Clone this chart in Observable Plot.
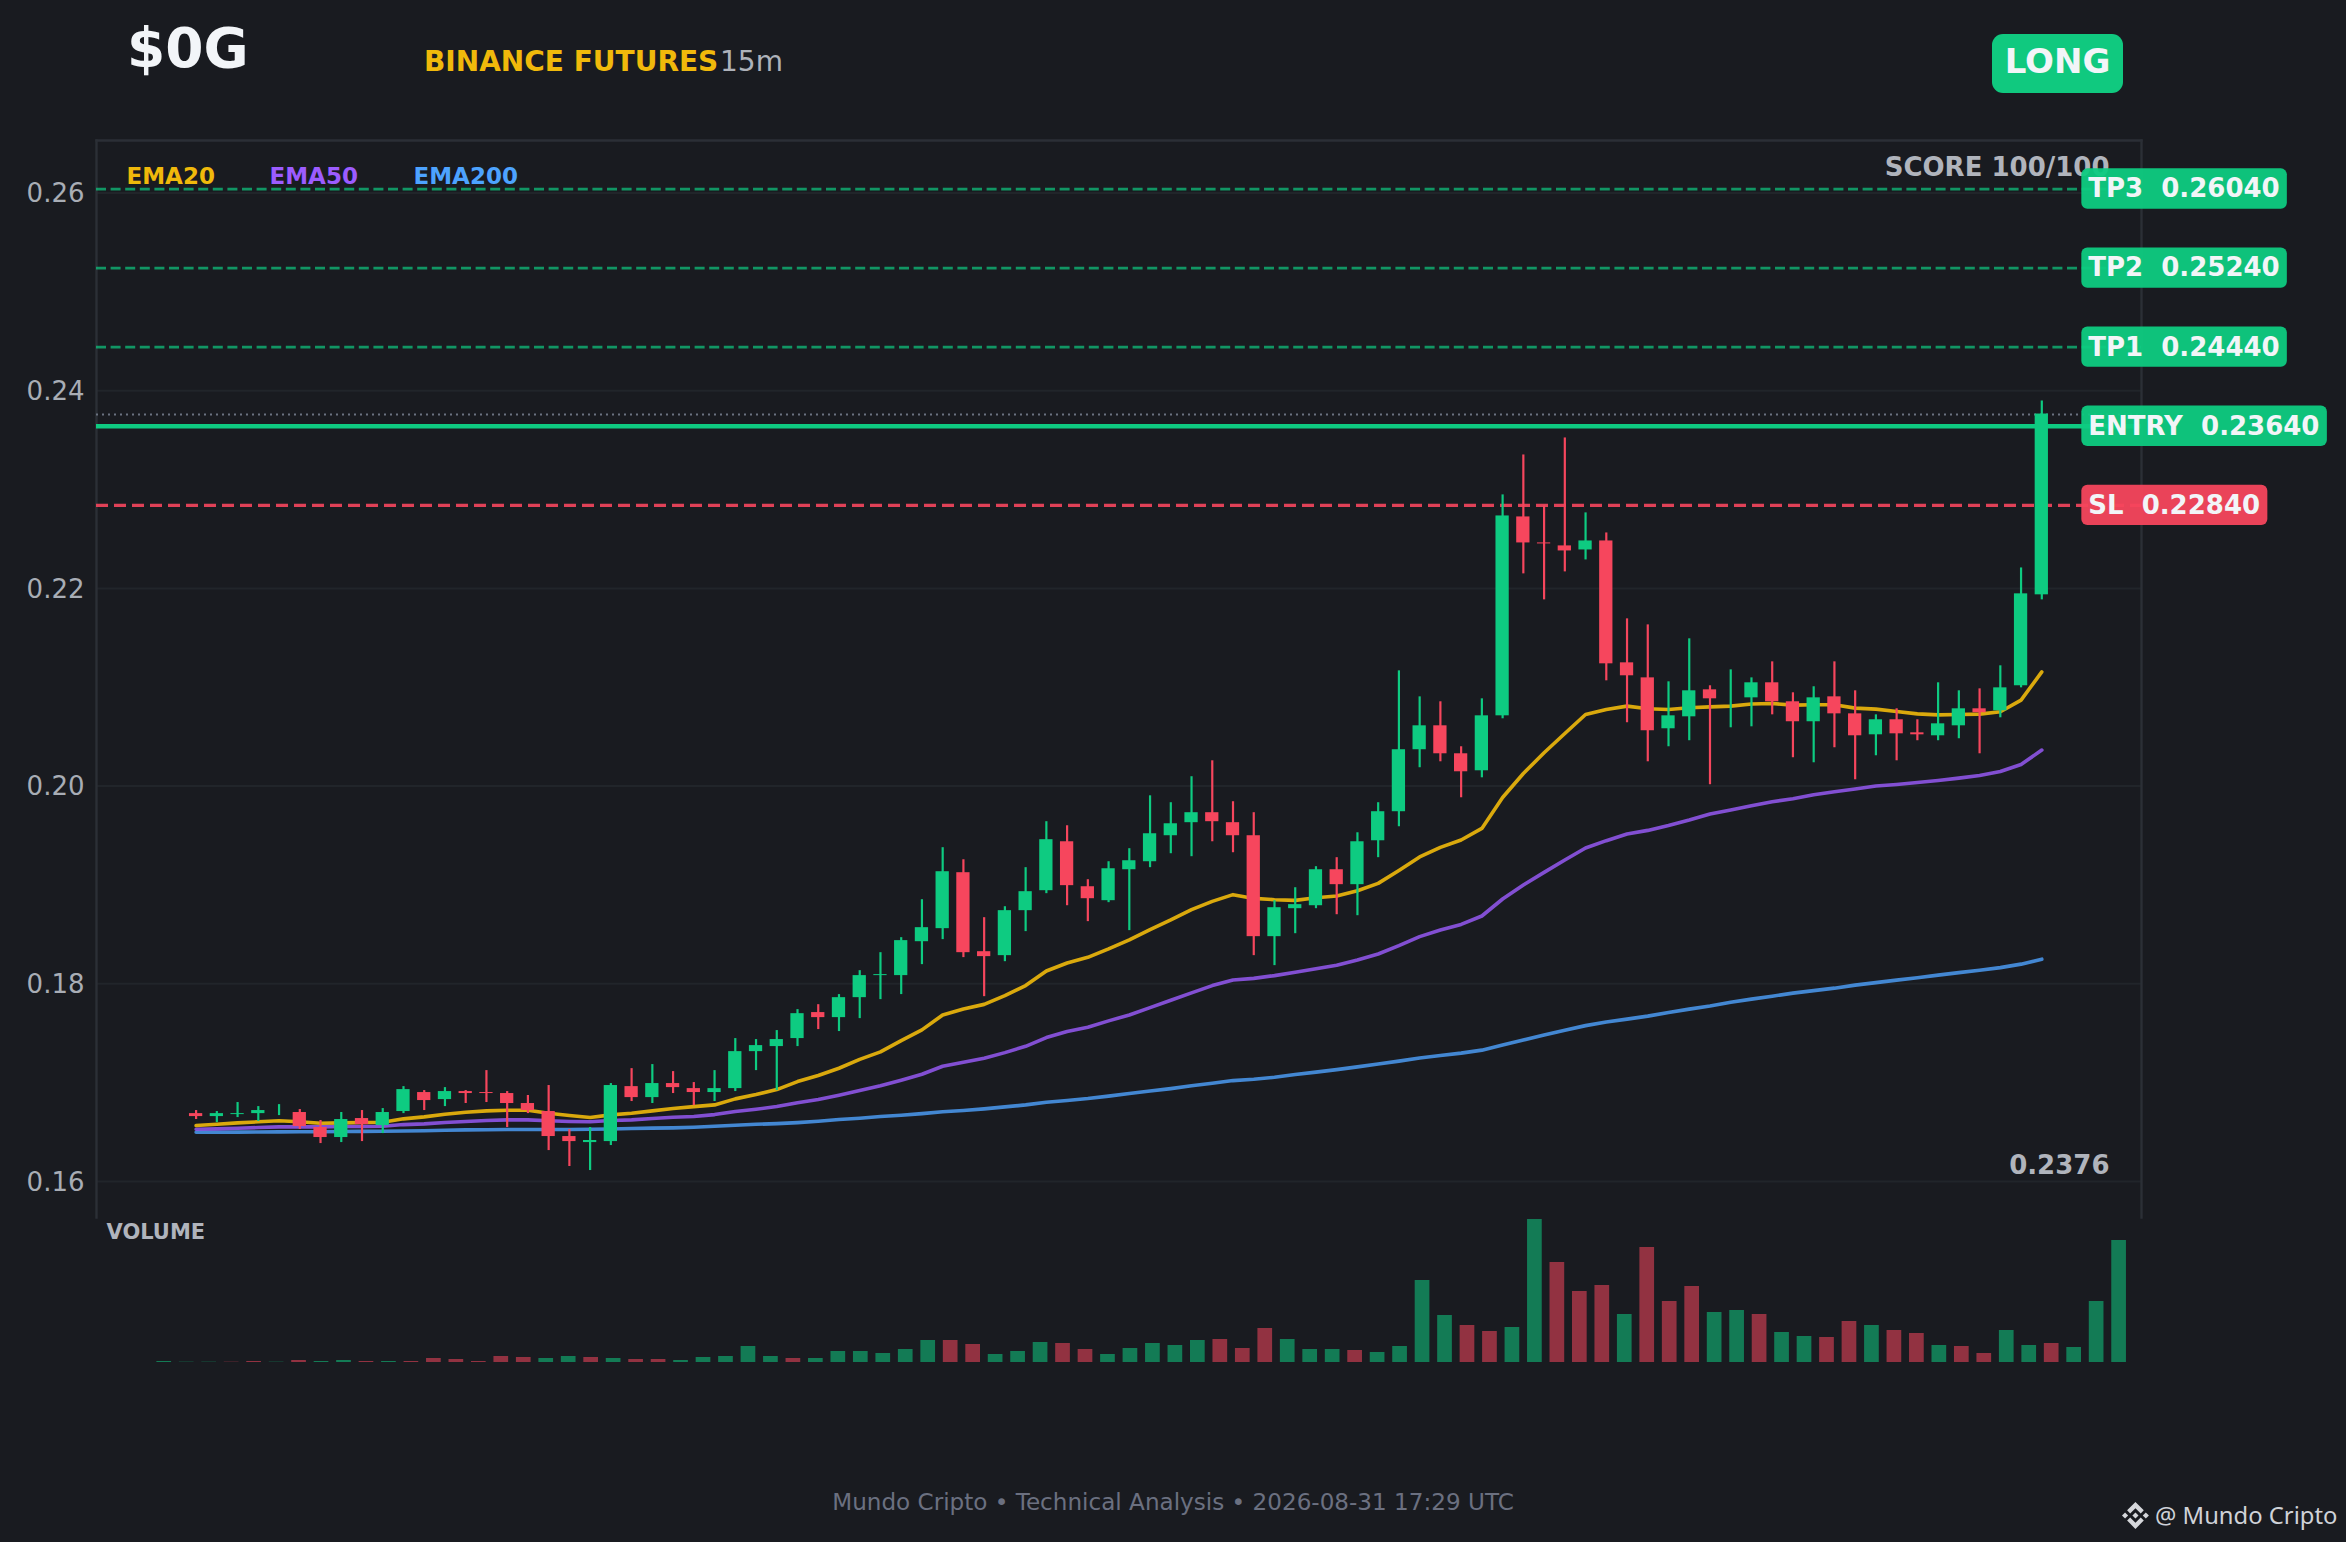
<!DOCTYPE html>
<html><head><meta charset="utf-8">
<script src="https://cdn.jsdelivr.net/npm/d3@7"></script>
<script src="https://cdn.jsdelivr.net/npm/@observablehq/plot@0.6"></script>
<style>
html,body{margin:0;padding:0;background:#191b20;}
#page{position:relative;width:2346px;height:1542px;overflow:hidden;background:#191b20;font-family:"DejaVu Sans",sans-serif;}
#header{height:130px;}
.abs{position:absolute;white-space:pre;line-height:1;}
svg{display:block;}
</style></head><body>
<div id="page">
<div id="header">
<span class="abs" style="left:127px;top:21px;font-size:55px;font-weight:700;color:#f2f5f8">$0G</span>
<span class="abs" style="left:424px;top:47.5px;font-size:28px;font-weight:700;color:#f0b90b">BINANCE FUTURES</span>
<span class="abs" style="left:720px;top:47.5px;font-size:28px;color:#aeb2ba">15m</span>
<div class="abs" style="left:1992px;top:34px;width:131px;height:59px;border-radius:11px;background:#10c97f;color:#f2f5f8;font-size:34px;font-weight:700;text-align:center;line-height:55px">LONG</div>
</div>
<div id="price"></div>
<div id="volume"></div>
<span class="abs" style="left:0;width:2346px;text-align:center;top:1491px;font-size:23.1px;color:#6b7080">Mundo Cripto • Technical Analysis • 2026-08-31 17:29 UTC</span>
<svg class="abs" style="left:2122px;top:1502px" width="27" height="27" viewBox="0 0 126 126" fill="#d5d7db"><path d="M38.171 53.203L62.759 28.616l24.6 24.6 14.306-14.307L62.759 0 23.864 38.896z"/><path d="M0 62.759l14.307-14.307 14.306 14.307-14.306 14.306z"/><path d="M62.759 48.447l14.313 14.312-14.313 14.313-14.312-14.313z"/><path d="M96.905 62.759l14.306-14.307 14.307 14.307-14.307 14.306z"/><path d="M87.359 72.291l-24.6 24.6-24.588-24.588-14.307 14.307 38.895 38.895 38.9-38.9z"/></svg>
<span class="abs" style="left:2155px;top:1504px;font-family:'Noto Sans',sans-serif;font-size:23.8px;color:#cfd2d8">@ Mundo Cripto</span>
</div>
<script>
const opens = [.16687,.16657,.16677,.16687,.16728,.16698,.16546,.16445,.16637,.16566,.16708,.169,.16829,.1691,.169,.1689,.16789,.16708,.16455,.16394,.16404,.1696,.16849,.16991,.1694,.169,.1694,.17314,.17365,.17446,.17709,.17658,.1786,.18083,.18083,.18426,.18558,.19124,.18325,.18285,.1874,.18942,.19437,.18982,.18841,.19154,.19235,.19498,.1963,.19731,.1963,.19498,.18477,.1876,.1879,.19154,.19003,.19447,.19741,.20368,.2061,.20327,.20155,.20711,.22723,.2246,.2243,.22389,.2248,.21247,.21095,.2058,.20701,.20974,.20812,.20893,.21045,.20853,.20651,.20903,.20731,.20519,.20671,.20539,.20509,.2061,.20782,.20762,.21015,.21935];
const highs = [.16718,.16708,.16799,.16758,.16778,.16728,.16617,.16698,.16718,.16738,.1696,.1692,.1695,.1692,.17122,.1691,.1687,.16971,.16526,.16546,.16991,.17142,.17183,.17112,.17001,.17122,.17446,.17436,.17527,.17739,.17789,.17891,.18133,.18315,.18467,.18851,.19377,.19255,.18669,.1878,.19175,.1964,.19599,.19053,.19235,.19367,.19902,.19832,.20095,.20256,.19842,.19731,.18841,.18972,.19185,.19276,.19528,.19832,.21166,.20903,.20853,.20398,.20883,.22946,.2335,.22834,.23522,.22764,.22561,.21692,.21631,.21055,.2149,.21015,.21176,.21095,.21257,.20944,.21005,.21257,.20964,.20721,.20782,.20671,.21045,.20964,.20984,.21217,.22207,.23896];
const lows = [.16627,.16596,.16647,.16607,.16667,.16526,.16384,.16394,.16404,.16485,.16687,.16718,.16758,.16789,.16799,.16546,.16687,.16313,.16152,.16111,.16364,.16809,.16789,.1689,.16768,.16809,.1691,.17122,.1692,.17365,.17537,.17517,.17648,.1784,.17891,.18194,.18447,.18265,.1787,.18224,.18528,.18912,.1879,.18629,.18821,.18538,.19175,.19316,.19286,.19437,.19326,.18285,.18184,.18507,.1876,.18699,.18689,.19276,.19589,.20186,.20246,.19882,.20084,.20681,.22147,.21884,.22167,.22288,.21065,.20641,.20246,.20398,.20459,.20014,.2059,.206,.20721,.20287,.20236,.20388,.20064,.20307,.20256,.20459,.20459,.20479,.20327,.20691,.20994,.21884];
const closes = [.16657,.16687,.16687,.16718,.16728,.16556,.16445,.16627,.16576,.16698,.1693,.16819,.1691,.1689,.1689,.16789,.16718,.16455,.16404,.16415,.16971,.16849,.16991,.1695,.169,.1694,.17314,.17375,.17436,.17698,.17658,.1786,.18083,.18093,.18437,.18568,.19134,.18315,.18275,.1874,.18932,.19458,.18993,.18861,.19164,.19245,.19518,.19619,.19731,.1964,.19498,.18477,.1877,.18801,.19154,.19003,.19437,.19741,.20368,.2061,.20327,.20145,.20711,.22733,.2246,.2245,.22379,.2248,.21237,.21116,.2056,.20711,.20964,.20883,.20812,.21045,.20853,.20651,.20893,.20731,.20509,.20671,.20529,.20519,.2063,.20782,.20742,.20994,.21945,.23764];
const ema20 = [.16566,.1658,.16593,.16604,.16614,.16604,.16589,.16593,.16597,.166,.16634,.16654,.16681,.16701,.16715,.16721,.16721,.16691,.16667,.16647,.16674,.16691,.16715,.16738,.16758,.16775,.16836,.1688,.1693,.17011,.17072,.17146,.17236,.17311,.17426,.17534,.17685,.17746,.17792,.1788,.17982,.1813,.18211,.18268,.18353,.18444,.18548,.18646,.1875,.18834,.18902,.18864,.18851,.18844,.18871,.18888,.18942,.19016,.19147,.19283,.1938,.19455,.19572,.19885,.20128,.20337,.20532,.20724,.20775,.20809,.20782,.20775,.20792,.20802,.20809,.2083,.20836,.20819,.20823,.20823,.20789,.20779,.20755,.20731,.20721,.20724,.20728,.20752,.2087,.21156];
const ema50 = [.16529,.16533,.16539,.16546,.16553,.16553,.16553,.16556,.16556,.16559,.16576,.16583,.16597,.16607,.16617,.16624,.16624,.16614,.16607,.16604,.16617,.16624,.16637,.1665,.16657,.16677,.16708,.16731,.16758,.16796,.16829,.16873,.1692,.16968,.17024,.17085,.17166,.17206,.17247,.17304,.17368,.17456,.17517,.1756,.17625,.17685,.17759,.17833,.17908,.17982,.18039,.18055,.18083,.18116,.18153,.18187,.18241,.18302,.18386,.18477,.18545,.18601,.18686,.18858,.19,.19127,.19252,.19374,.19448,.19515,.19552,.19602,.19657,.19717,.19758,.19801,.19842,.19872,.19913,.19943,.1997,.20001,.20017,.20037,.20057,.20081,.20108,.20148,.20219,.20365];
const ema200 = [.16498,.16499,.165,.16501,.16502,.16503,.16504,.16506,.16507,.16509,.16511,.16514,.16518,.16522,.16524,.16526,.16526,.16526,.16526,.16529,.16532,.16536,.1654,.16543,.16549,.16559,.16569,.16579,.16586,.16596,.1661,.16627,.1664,.16657,.1667,.16687,.16705,.16718,.16735,.16755,.16775,.16802,.16819,.16839,.16864,.1689,.16915,.1694,.16968,.16994,.17021,.17034,.17054,.17082,.17107,.17132,.1716,.17188,.17218,.17249,.17274,.17299,.17329,.1738,.17431,.17481,.1753,.17577,.17613,.17643,.17673,.17709,.17744,.17776,.17813,.17845,.17875,.17906,.17931,.17956,.17987,.18012,.18037,.18062,.18088,.18113,.18138,.18164,.18199,.18249];
const volumes = [0,0,1,.3,.3,.3,1,.3,2,1,2,1,1,1,4,3,1,6,5,4,6,5,4,3,3,2,5,6,16,6,4,4,11,11,9,13,22,22,18,8,11,20,19,13,8,14,19,17,22,23,14,34,23,13,13,12,10,16,82,47,37,31,35,143,100,71,77,48,115,61,76,50,52,48,30,26,25,41,37,32,29,17,16,9,32,17,19,15,61,122];
const yTicks = [.16,.18,.20,.22,.24,.26];
const levelNames = ["TP3","TP2","TP1","ENTRY","SL"];
const levelValues = [.2604,.2524,.2444,.2364,.2284];
const currentPrice = .2376;

const GREEN="#0ecb81", RED="#f6465d", GRID="#21252a", FRAME="#2b2f36", MUTED="#b0b4bc";
const rows = opens.map((o,i)=>({i,open:o,high:highs[i],low:lows[i],close:closes[i],volume:volumes[i],color:closes[i]>=o?GREEN:RED}));
const serie = a => a.map((v,i)=>({i,v}));
const levels = levelNames.map((name,k)=>({
  name,value:levelValues[k],
  label:`${name}\u00a0\u00a0${levelValues[k].toFixed(5)}`,
  color:name==="SL"?RED:GREEN,
  end:name==="ENTRY"?102.77:name==="SL"?99.9:100.84,
  stroke:name==="SL"?{strokeOpacity:.9,strokeWidth:3.4,dash:"12 6"}:name==="ENTRY"?{strokeOpacity:1,strokeWidth:4.6,dash:null}:{strokeOpacity:.7,strokeWidth:2.8,dash:"10 4.6"}
}));
const font = {fontFamily:"'DejaVu Sans',sans-serif",fontWeight:"700"};
const W=2346;

const price = Plot.plot({
  width:W,height:1087,marginTop:10,marginBottom:0,marginLeft:96,marginRight:205,
  style:{background:"transparent",fontFamily:"'DejaVu Sans',sans-serif",overflow:"visible"},
  x:{domain:[0,89],range:[195.6,2041.3],axis:null},
  y:{domain:[.15636,.26531],range:[1087,10]},
  color:{type:"identity"},
  marks:[
    Plot.ruleY(yTicks,{stroke:GRID,strokeWidth:2}),
    Plot.frame({anchor:"left",stroke:FRAME,strokeWidth:2.4}),
    Plot.frame({anchor:"right",stroke:FRAME,strokeWidth:2.4}),
    Plot.frame({anchor:"top",stroke:FRAME,strokeWidth:2.4}),
    Plot.axisY({ticks:yTicks,tickFormat:d=>d.toFixed(2),tickSize:0,tickPadding:12,fontSize:26,fill:"#a8adb5",anchor:"left",label:null,dy:1}),
    Plot.ruleY([currentPrice],{stroke:"#6b7280",strokeWidth:2,strokeDasharray:"2 4"}),
    ...levels.map(l=>Plot.ruleY([l.value],{stroke:l.color,strokeOpacity:l.stroke.strokeOpacity,strokeWidth:l.stroke.strokeWidth,strokeDasharray:l.stroke.dash})),
    Plot.line(serie(ema200),{x:"i",y:"v",stroke:"#4da3ff",strokeOpacity:.8,strokeWidth:3.6,curve:"linear"}),
    Plot.line(serie(ema50),{x:"i",y:"v",stroke:"#9c5cff",strokeOpacity:.8,strokeWidth:3.6,curve:"linear"}),
    Plot.line(serie(ema20),{x:"i",y:"v",stroke:"#f0b90b",strokeOpacity:.9,strokeWidth:3.6,curve:"linear"}),
    Plot.ruleX(rows,{x:"i",y1:"low",y2:"high",stroke:"color",strokeWidth:2.2}),
    Plot.rect(rows,{x1:d=>d.i-.32,x2:d=>d.i+.32,y1:"open",y2:"close",fill:"color"}),
    Plot.text(["EMA20"],{frameAnchor:"top-left",dx:30,dy:36,textAnchor:"start",lineAnchor:"middle",fontSize:23,fill:"#f0b90b",...font}),
    Plot.text(["EMA50"],{frameAnchor:"top-left",dx:173,dy:36,textAnchor:"start",lineAnchor:"middle",fontSize:23,fill:"#9c5cff",...font}),
    Plot.text(["EMA200"],{frameAnchor:"top-left",dx:317,dy:36,textAnchor:"start",lineAnchor:"middle",fontSize:23,fill:"#4da3ff",...font}),
    Plot.text(["SCORE 100/100"],{frameAnchor:"top-right",dx:-32,dy:27,textAnchor:"end",lineAnchor:"middle",fontSize:26,fill:MUTED,...font}),
    Plot.text([currentPrice.toFixed(4)],{frameAnchor:"bottom-right",dx:-32,dy:-52,textAnchor:"end",lineAnchor:"middle",fontSize:26,fill:MUTED,...font}),
    Plot.rect(levels,{x1:()=>90.93,x2:"end",y1:d=>d.value-.00204,y2:d=>d.value+.00204,fill:"color",fillOpacity:.95,rx:6}),
    Plot.text(levels,{x:()=>91.24,y:"value",text:"label",textAnchor:"start",lineAnchor:"middle",fontSize:26,fill:"#f2f5f8",...font})
  ]
});
document.getElementById("price").appendChild(price);

const volume = Plot.plot({
  width:W,height:150,marginTop:0,marginBottom:0,marginLeft:96,marginRight:205,
  style:{background:"transparent",fontFamily:"'DejaVu Sans',sans-serif",overflow:"visible"},
  x:{domain:[0,89],range:[118.8,2118.6],axis:null},
  y:{domain:[0,143],range:[145,2],axis:null},
  color:{type:"identity"},
  marks:[
    Plot.rect(rows,{x1:d=>d.i-.327,x2:d=>d.i+.327,y1:()=>0,y2:"volume",fill:"color",fillOpacity:.55}),
    Plot.text(["VOLUME"],{frameAnchor:"top-left",dx:10,dy:15,textAnchor:"start",lineAnchor:"middle",fontSize:21,fill:MUTED,...font})
  ]
});
document.getElementById("volume").appendChild(volume);
</script>
</body></html>
